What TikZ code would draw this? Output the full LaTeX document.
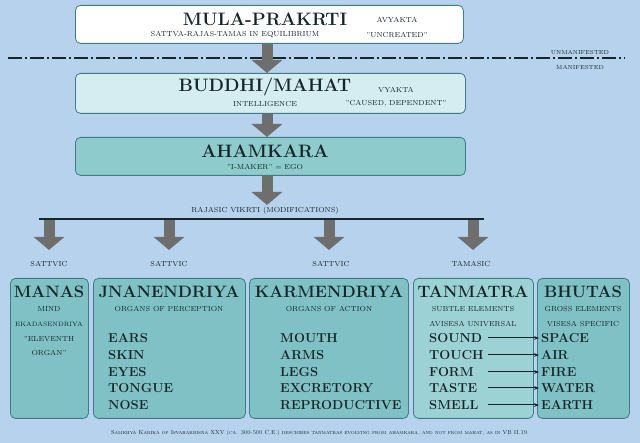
\documentclass[tikz,border=0pt]{standalone}
\usetikzlibrary{arrows.meta}
\definecolor{bg}{HTML}{B6D2EC}
\definecolor{edge}{HTML}{3F7C84}
\definecolor{ink}{HTML}{16262A}
\definecolor{pale}{HTML}{D5EDF0}
\definecolor{mid}{HTML}{8ECBCD}
\definecolor{teal}{HTML}{80C1C5}
\definecolor{tealb}{HTML}{9DD2D5}
\definecolor{arr}{HTML}{6E6E6E}
\begin{document}
\begin{tikzpicture}[x=1pt,y=-1pt,
  box/.style={draw=edge,line width=0.8pt,rounded corners=5pt},
  ttl/.style={font=\fontsize{16.5}{17}\selectfont\bfseries,text=ink,inner sep=0pt},
  sub/.style={font=\fontsize{7.3}{8}\selectfont,text=ink,inner sep=0pt},
  item/.style={font=\fontsize{13}{13}\selectfont\bfseries,text=ink,inner sep=0pt,anchor=west},
  bigarr/.style={draw=arr,line width=11pt,-{Triangle[width=30pt,length=13pt]}},
  thin/.style={draw=ink,line width=1pt,-{Stealth[length=5pt]},shorten >=2pt}]
\fill[bg] (0,0) rectangle (640,443);
\useasboundingbox (0,0) rectangle (640,443);
% top boxes
\node[box,fill=white,minimum width=388,minimum height=38,anchor=north west] (mula) at (75,5) {};
\node[box,fill=pale,minimum width=390,minimum height=40,anchor=north west] (buddhi) at (75,73) {};
\node[box,fill=mid,minimum width=390,minimum height=38,anchor=north west] (aham) at (75,137) {};
\node[ttl,font=\fontsize{18}{18}\selectfont\bfseries] (mt) at (265,19) {MULA-PRAKRTI};
\node[sub] (ms) at (235,35) {SATTVA-RAJAS-TAMAS IN EQUILIBRIUM};
\node[sub] (ma) at (397,20) {AVYAKTA};
\node[sub] (mu) at (397,35) {"UNCREATED"};
\node[ttl,font=\fontsize{18}{18}\selectfont\bfseries] (bt) at (265,87) {BUDDHI/MAHAT};
\node[sub] (bs) at (265,104) {INTELLIGENCE};
\node[sub] (bv) at (396,90) {VYAKTA};
\node[sub] (bc) at (396,104) {"CAUSED, DEPENDENT"};
\node[ttl,font=\fontsize{18}{18}\selectfont\bfseries] (at) at (265,151) {AHAMKARA};
\node[sub] (as) at (265,167) {"I-MAKER" = EGO};
% dash line
\coordinate (dl) at (8,58); \coordinate (dr) at (625,58);
\draw[ink,line width=1.2pt,dash pattern=on 14pt off 3pt on 2pt off 3pt] (dl) -- (dr);
\node[sub,font=\fontsize{5.8}{6}\selectfont] (un) at (580,52) {UNMANIFESTED};
\node[sub,font=\fontsize{5.8}{6}\selectfont] (mn) at (580,67) {MANIFESTED};
% arrows
\draw[bigarr] (mula.south -| 267,0) -- (267,73);
\draw[bigarr] (buddhi.south -| 267,0) -- (267,137);
\draw[bigarr] (aham.south -| 267,0) -- (267,205);
\node[sub] (raj) at (265,211) {RAJASIC VIKRTI (MODIFICATIONS)};
\coordinate (bl) at (39,219); \coordinate (br) at (484,219);
\draw[ink,line width=2.5pt] (bl) -- (br);
\foreach \x/\n in {49/a,169/b,329/c,473/d}{
  \coordinate (s\n) at (\x,220); \coordinate (e\n) at (\x,250);
  \draw[bigarr] (s\n) -- (e\n);}
\node[sub] (l1) at (49,264) {SATTVIC};
\node[sub] (l2) at (169,264) {SATTVIC};
\node[sub] (l3) at (331,264) {SATTVIC};
\node[sub] (l4) at (471,264) {TAMASIC};
% bottom boxes
\node[box,fill=teal,minimum width=78,minimum height=140,anchor=north west] (manas) at (10,278) {};
\node[box,fill=teal,minimum width=152,minimum height=140,anchor=north west] (jnan) at (93,278) {};
\node[box,fill=teal,minimum width=159,minimum height=140,anchor=north west] (karm) at (249,278) {};
\node[box,fill=tealb,minimum width=120,minimum height=140,anchor=north west] (tanm) at (413,278) {};
\node[box,fill=teal,minimum width=92,minimum height=140,anchor=north west] (bhut) at (537,278) {};
\node[ttl] (t1) at (49,292) {MANAS};
\node[ttl] (t2) at (169,292) {JNANENDRIYA};
\node[ttl] (t3) at (329,292) {KARMENDRIYA};
\node[ttl] (t4) at (473,292) {TANMATRA};
\node[ttl] (t5) at (583,292) {BHUTAS};
\node[sub] (m1) at (49,309) {MIND};
\node[sub,font=\fontsize{6.3}{7}\selectfont] (m2) at (49,324) {EKADASENDRIYA};
\node[sub] (m3) at (49,339) {"ELEVENTH};
\node[sub] (m4) at (49,353) {ORGAN"};
\node[sub] (j1) at (169,309) {ORGANS OF PERCEPTION};
\node[sub] (k1) at (329,309) {ORGANS OF ACTION};
\node[sub] (n1) at (473,309) {SUBTLE ELEMENTS};
\node[sub] (n2) at (473,324) {AVISESA UNIVERSAL};
\node[sub] (h1) at (583,309) {GROSS ELEMENTS};
\node[sub] (h2) at (583,324) {VISESA SPECIFIC};
\foreach \y/\a/\b/\c/\d/\i in {338/EARS/MOUTH/SOUND/SPACE/1,355/SKIN/ARMS/TOUCH/AIR/2,372/EYES/LEGS/FORM/FIRE/3,388/TONGUE/EXCRETORY/TASTE/WATER/4,405/NOSE/REPRODUCTIVE/SMELL/EARTH/5}{
  \node[item] (ja\i) at (108,\y) {\a};
  \node[item] (ka\i) at (280,\y) {\b};
  \node[item] (ta\i) at (429,\y) {\c};
  \node[item] (ba\i) at (541,\y) {\d};
  \draw[thin] (488,\y) -- (ba\i.west);}
\node[sub,font=\fontsize{5.8}{6}\selectfont] (foot) at (320,433) {\textsc{Samkhya Karika of Isvarakrisna XXV (ca. 300-500 C.E.) describes tanmatras evolving from ahamkara, and not from mahat, as in VB II.19.}};
\end{tikzpicture}
\end{document}
